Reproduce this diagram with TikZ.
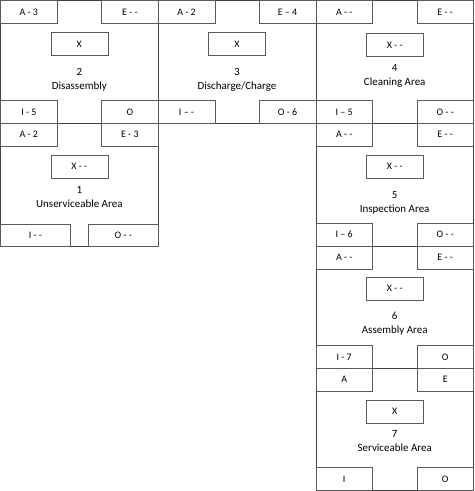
\documentclass[tikz,border=0pt]{standalone}
\usepackage{fontspec}
\setmainfont{Carlito}
\usetikzlibrary{positioning}
\definecolor{gridgray}{RGB}{64,64,64}
\definecolor{boxgray}{RGB}{90,90,90}
\tikzset{
  area/.style={rectangle,draw=gridgray,semithick,minimum width=158pt,minimum height=123pt,inner sep=0pt},
  tag/.style={rectangle,draw=boxgray,thin,minimum width=57pt,minimum height=23pt,inner sep=0pt,font=\fontsize{10}{12}\selectfont},
  widetag/.style={tag,minimum width=70pt,minimum height=22pt},
  xbox/.style={tag,anchor=north},
  title/.style={align=center,inner sep=0pt,font=\fontsize{11}{14}\selectfont},
}
\begin{document}
\begin{tikzpicture}[x=1pt,y=-1pt]
        \useasboundingbox (-0.5,-0.5) rectangle (474.5,491.5);
        % areas
        \node (c2) at (79,61.5) [area] {};
        \node (c3) at (237,61.5) [area] {};
        \node (c4) at (395,61.5) [area] {};
        \node (c1) at (79,184.5) [area] {};
        \node (c5) at (395,184.5) [area] {};
        \node (c6) at (395,307.25) [area,minimum height=122.5pt] {};
        \node (c7) at (395,429.75) [area,minimum height=122.5pt] {};
        % 2 Disassembly
        \node (c2a) at (c2.north west) [tag,anchor=north west] {A - 3};
        \node (c2e) at (c2.north east) [tag,anchor=north east] {E - -};
        \node (c2i) at (c2.south west) [tag,anchor=south west] {I - 5};
        \node (c2o) at (c2.south east) [tag,anchor=south east] {O};
        \node (c2x) [xbox,below=32pt of c2.north] {X};
        \node (c2t) [title,below=13pt of c2x] {2\\Disassembly};
        % 3 Discharge/Charge
        \node (c3a) at (c3.north west) [tag,anchor=north west] {A - 2};
        \node (c3e) at (c3.north east) [tag,anchor=north east] {E -- 4};
        \node (c3i) at (c3.south west) [tag,anchor=south west] {I -- -};
        \node (c3o) at (c3.south east) [tag,anchor=south east] {O - 6};
        \node (c3x) [xbox,below=32pt of c3.north] {X};
        \node (c3t) [title,below=13pt of c3x] {3\\Discharge/Charge};
        % 4 Cleaning Area
        \node (c4a) at (c4.north west) [tag,anchor=north west] {A - -};
        \node (c4e) at (c4.north east) [tag,anchor=north east] {E - -};
        \node (c4i) at (c4.south west) [tag,anchor=south west] {I -- 5};
        \node (c4o) at (c4.south east) [tag,anchor=south east] {O - -};
        \node (c4x) [xbox,below=33pt of c4.north] {X - -};
        \node (c4t) [title,below=8pt of c4x] {4\\Cleaning Area};
        % 1 Unserviceable Area
        \node (c1a) at (c1.north west) [tag,anchor=north west] {A - 2};
        \node (c1e) at (c1.north east) [tag,anchor=north east] {E - 3};
        \node (c1i) at (c1.south west) [widetag,anchor=south west] {I - -};
        \node (c1o) at (c1.south east) [widetag,anchor=south east] {O - -};
        \node (c1x) [xbox,below=32pt of c1.north] {X - -};
        \node (c1t) [title,below=8pt of c1x] {1\\Unserviceable Area};
        % 5 Inspection Area
        \node (c5a) at (c5.north west) [tag,anchor=north west] {A - -};
        \node (c5e) at (c5.north east) [tag,anchor=north east] {E - -};
        \node (c5i) at (c5.south west) [tag,anchor=south west] {I -- 6};
        \node (c5o) at (c5.south east) [tag,anchor=south east] {O - -};
        \node (c5x) [xbox,below=32pt of c5.north] {X - -};
        \node (c5t) [title,below=13pt of c5x] {5\\Inspection Area};
        % 6 Assembly Area
        \node (c6a) at (c6.north west) [tag,anchor=north west] {A - -};
        \node (c6e) at (c6.north east) [tag,anchor=north east] {E - -};
        \node (c6i) at (c6.south west) [tag,anchor=south west] {I - 7};
        \node (c6o) at (c6.south east) [tag,anchor=south east] {O};
        \node (c6x) [xbox,below=31pt of c6.north] {X - -};
        \node (c6t) [title,below=12pt of c6x] {6\\Assembly Area};
        % 7 Serviceable Area
        \node (c7a) at (c7.north west) [tag,anchor=north west] {A};
        \node (c7e) at (c7.north east) [tag,anchor=north east] {E};
        \node (c7i) at (c7.south west) [tag,anchor=south west] {I};
        \node (c7o) at (c7.south east) [tag,anchor=south east] {O};
        \node (c7x) [xbox,below=32pt of c7.north] {X};
        \node (c7t) [title,below=7pt of c7x] {7\\Serviceable Area};
      \end{tikzpicture}
\end{document}
